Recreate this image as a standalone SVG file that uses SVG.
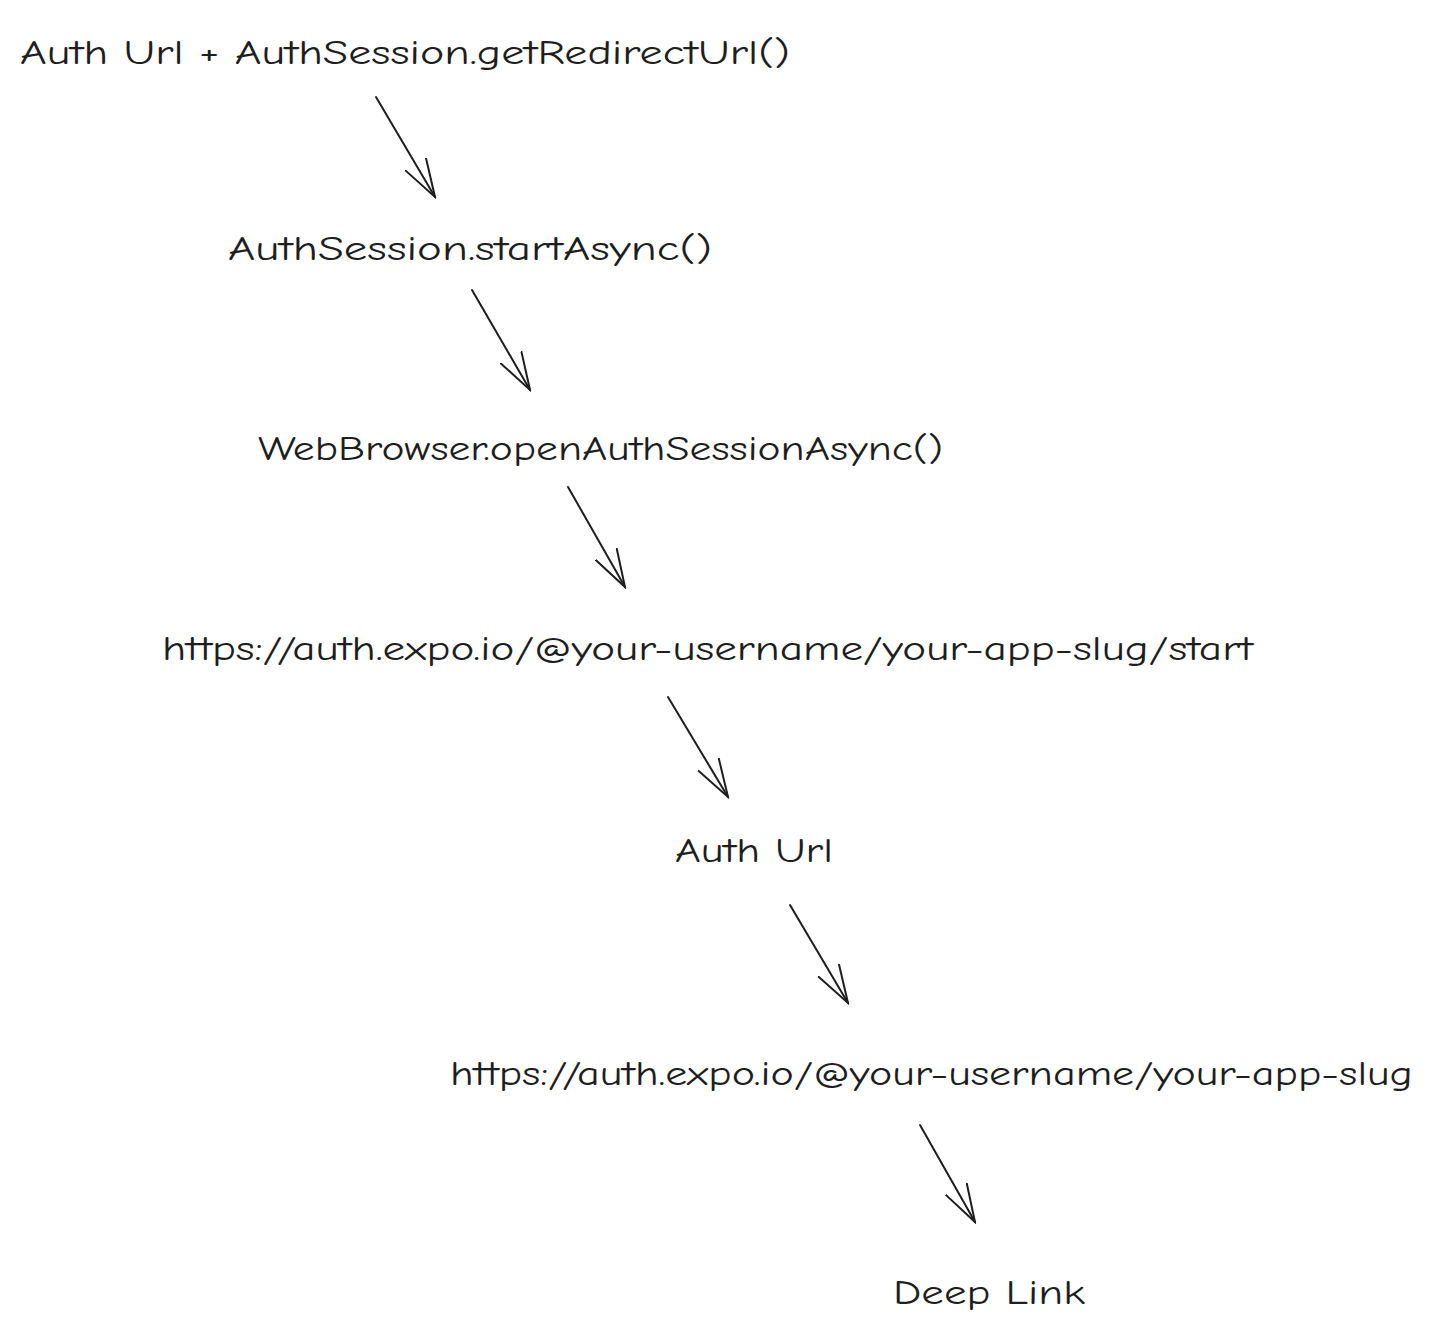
<svg xmlns="http://www.w3.org/2000/svg" width="1434" height="1340" viewBox="0 0 1434 1340">
<defs>
<style>
text{font-family:"Comic Neue","Liberation Sans",sans-serif;font-size:34px;fill:#1e1e1e}
.c path{fill:none;stroke:#1e1e1e;stroke-width:2;stroke-linecap:round}
</style>
<marker id="ah" viewBox="0 0 40 30" refX="38" refY="15" markerWidth="40" markerHeight="30" markerUnits="userSpaceOnUse" orient="auto">
<path d="M0,3 L38,15 L0,27" fill="none" stroke="#1e1e1e" stroke-width="2" stroke-linecap="round"/>
</marker>
</defs>
<rect width="1434" height="1340" fill="#fff"/>
<g id="n1"><text x="20" y="64" textLength="770" lengthAdjust="spacingAndGlyphs">Auth Url + AuthSession.getRedirectUrl()</text></g>
<g id="n2"><text x="228" y="260" textLength="484" lengthAdjust="spacingAndGlyphs">AuthSession.startAsync()</text></g>
<g id="n3"><text x="258" y="460" textLength="685" lengthAdjust="spacingAndGlyphs">WebBrowser.openAuthSessionAsync()</text></g>
<g id="n4"><text x="162" y="660" textLength="1091" lengthAdjust="spacingAndGlyphs">https://auth.expo.io/@your-username/your-app-slug/start</text></g>
<g id="n5"><text x="675" y="862" textLength="158" lengthAdjust="spacingAndGlyphs">Auth Url</text></g>
<g id="n6"><text x="450" y="1085" textLength="963" lengthAdjust="spacingAndGlyphs">https://auth.expo.io/@your-username/your-app-slug</text></g>
<g id="n7"><text x="893" y="1304" textLength="192" lengthAdjust="spacingAndGlyphs">Deep Link</text></g>
<g class="c" id="connectors">
<path d="M376,97 L435,197" marker-end="url(#ah)"/>
<path d="M472,290 L530,390" marker-end="url(#ah)"/>
<path d="M568,487 L625,587" marker-end="url(#ah)"/>
<path d="M668,697 L728,797" marker-end="url(#ah)"/>
<path d="M790,905 L848,1003" marker-end="url(#ah)"/>
<path d="M920,1125 L975,1222" marker-end="url(#ah)"/>
</g>
</svg>
